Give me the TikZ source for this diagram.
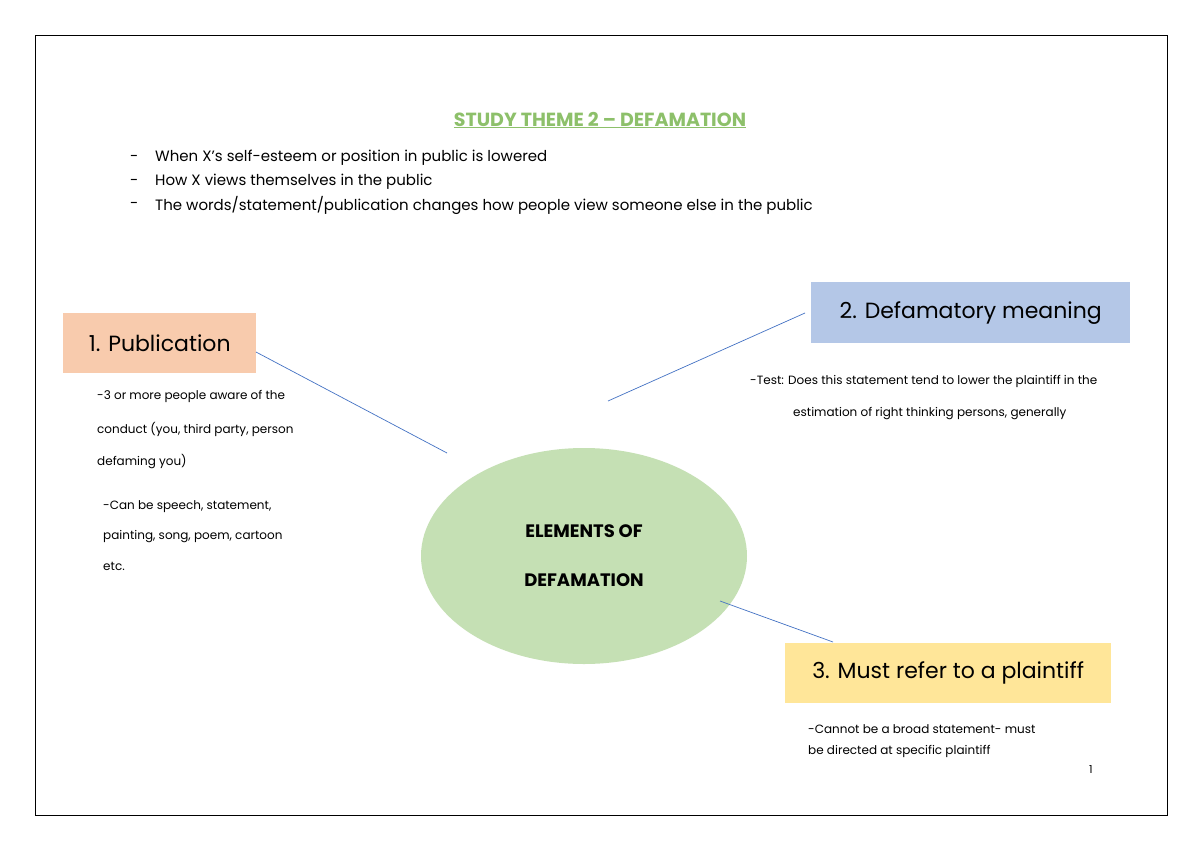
\documentclass[tikz,border=0pt]{standalone}
\usepackage{fontspec}
\usetikzlibrary{shapes.geometric}
\setmainfont{Poppins}
\definecolor{ttl}{HTML}{8DC06A}
\definecolor{orbox}{HTML}{F8CBAD}
\definecolor{blbox}{HTML}{B4C7E7}
\definecolor{ylbox}{HTML}{FFE699}
\definecolor{ell}{HTML}{C5E0B4}
\definecolor{ln}{HTML}{4472C4}
\tikzset{
 small/.style={anchor=west,inner sep=0,font=\fontsize{12}{14}\selectfont},
 bul/.style={anchor=west,inner sep=0,font=\fontsize{15}{18}\selectfont},
 box/.style={anchor=north west,inner sep=0,minimum height=60pt,font=\fontsize{22}{26}\selectfont},
 conn/.style={ln,line width=0.7pt}
}
\begin{document}
\begin{tikzpicture}[x=1pt,y=-1pt]
\useasboundingbox (0,0) rectangle (1200,849);
\fill[white] (0,0) rectangle (1200,849);
\draw[line width=1pt] (35,35) rectangle (1167,815);
\node[inner sep=0,font=\fontsize{19}{22}\selectfont\bfseries,text=ttl] (title) at (600,120) {\underline{STUDY THEME 2 – DEFAMATION}};
\node[bul] (d1) at (130,158) {-};
\node[bul] (d2) at (130,182) {-};
\node[bul] (d3) at (130,205) {-};
\node[bul] (b1) at (155,158) {When X’s self-esteem or position in public is lowered};
\node[bul] (b2) at (155,182) {How X views themselves in the public};
\node[bul] (b3) at (155,205) {The words/statement/publication changes how people view someone else in the public};
\node[box,fill=orbox,minimum width=193pt] (p) at (63,313) {1. Publication};
\node[box,fill=blbox,minimum width=319pt,minimum height=61pt] (dm) at (811,282) {2. Defamatory meaning};
\node[box,fill=ylbox,minimum width=326pt] (pl) at (785,643) {3. Must refer to a plaintiff};
\node[ellipse,fill=ell,minimum width=326pt,minimum height=216pt,inner sep=0,font=\fontsize{18}{49}\selectfont\bfseries,align=center] (e) at (584,556) {ELEMENTS OF\\DEFAMATION};
\coordinate (c1) at (447,453); \coordinate (c2) at (608,401); \coordinate (c3) at (720,601);
\coordinate (p1) at (256,352); \coordinate (q1) at (805,313); \coordinate (r1) at (833,642);
\draw[conn] (p1) -- (c1);
\draw[conn] (q1) -- (c2);
\draw[conn] (c3) -- (r1);
\node[small] (t1) at (97,396) {-3 or more people aware of the};
\node[small] (t2) at (97,429) {conduct (you, third party, person};
\node[small] (t3) at (97,462) {defaming you)};
\node[small] (t4) at (103,507) {-Can be speech, statement,};
\node[small] (t5) at (103,537) {painting, song, poem, cartoon};
\node[small] (t6) at (103,566) {etc.};
\node[small] (t7) at (750,381) {-Test: Does this statement tend to lower the plaintiff in the};
\node[small] (t8) at (793,414) {estimation of right thinking persons, generally};
\node[small] (t9) at (808,729) {-Cannot be a broad statement- must};
\node[small] (t10) at (808,751) {be directed at specific plaintiff};
\node[small,font=\fontsize{11}{13}\selectfont] (pg) at (1089,770) {1};
\end{tikzpicture}
\end{document}
